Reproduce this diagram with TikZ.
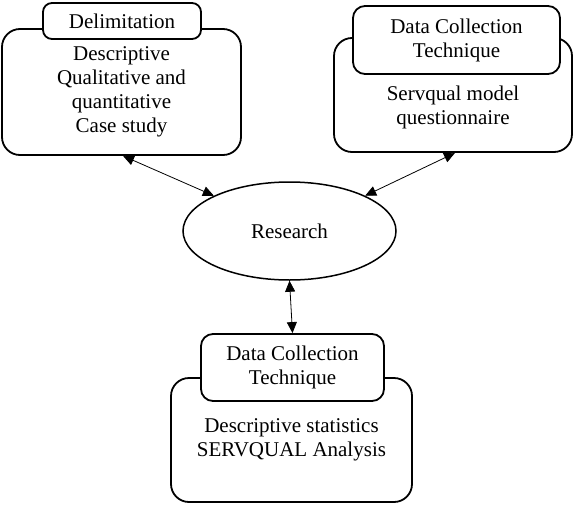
\documentclass[tikz,border=0pt]{standalone}
\usepackage{fontspec}
\setmainfont{Liberation Serif}
\usetikzlibrary{arrows.meta,shapes.geometric}
\begin{document}
\begin{tikzpicture}[x=1pt,y=-1pt,
  tf/.style={font=\fontsize{21}{24}\selectfont},
  bigbox/.style={draw, line width=1.8pt, rounded corners=18pt, inner sep=0pt, align=center, tf},
  smallbox/.style={draw, line width=1.8pt, fill=white, rounded corners=12pt, inner sep=0pt, align=center, tf},
  txt/.style={inner sep=0pt, align=center, tf},
  link/.style={line width=0.8pt, {Triangle[length=11pt,width=10pt]}-{Triangle[length=11pt,width=10pt]}}]
\useasboundingbox (0,0) rectangle (577,506);
% left group
\node[bigbox, minimum width=239pt, minimum height=126pt] (delb) at (121.5,92) {Descriptive\\Qualitative and\\quantitative\\Case study};
\node[smallbox, rounded corners=9pt, minimum width=158pt, minimum height=36pt] (dels) at (122,21) {Delimitation};
% right group
\node[bigbox, minimum width=238pt, minimum height=114pt] (dcb) at (453,95) {};
\node[txt] (dctxt) at (453,107.5) {Servqual model\\questionnaire};
\node[smallbox, minimum width=207pt, minimum height=68pt] (dcs) at (456.5,40) {Data Collection\\Technique};
% centre
\node[draw, ellipse, line width=1.5pt, minimum width=213pt, minimum height=98pt, inner sep=0pt, tf] (ell) at (289.5,231) {Research};
% bottom group
\node[bigbox, minimum width=241pt, minimum height=124pt] (anb) at (291.5,440) {Descriptive statistics\\SERVQUAL Analysis};
\node[smallbox, minimum width=183pt, minimum height=67pt] (ans) at (292.5,367.5) {Data Collection\\Technique};
% connectors
\draw[link] ([xshift=1.5pt]delb.south) -- (ell.155);
\draw[link] ([xshift=2pt]dcb.south) -- (ell.25);
\draw[link] (ell.south) -- (ans.north);
\end{tikzpicture}
\end{document}
